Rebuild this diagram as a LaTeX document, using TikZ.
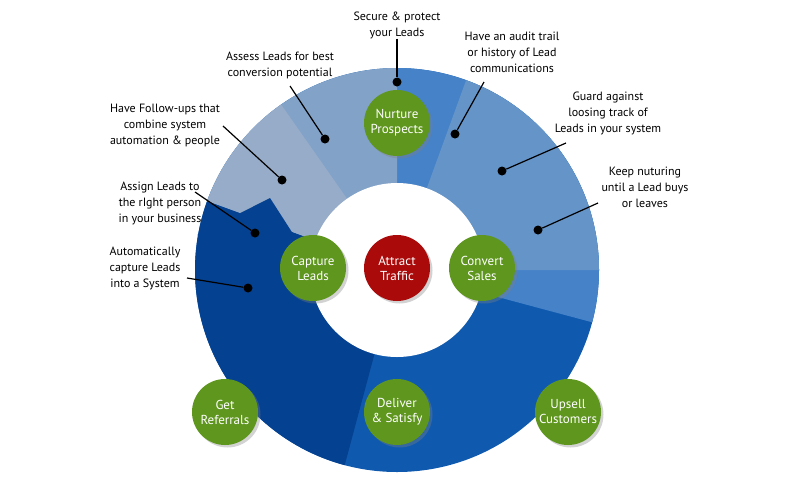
\documentclass[tikz,border=0pt]{standalone}
\usepackage{fontspec}
\setmainfont{PT Sans}
\usetikzlibrary{shadows}
\definecolor{ringgrey}{RGB}{150,172,200}
\definecolor{ringlight}{RGB}{100,148,200}
\definecolor{ringmid}{RGB}{70,130,200}
\definecolor{ringdark}{RGB}{15,90,175}
\definecolor{ringnavy}{RGB}{5,65,145}
\definecolor{stagegreen}{RGB}{95,150,30}
\definecolor{stagered}{RGB}{170,10,10}
\tikzset{
  stage/.style={circle,minimum size=66pt,inner sep=0pt,fill=stagegreen,text=white,
    align=center,font=\fontsize{13}{15}\selectfont,drop shadow={opacity=.35}},
  hub/.style={stage,fill=stagered},
  note/.style={align=center,font=\fontsize{12}{16}\selectfont,inner sep=0pt},
  dot/.style={circle,fill=black,minimum size=9pt,inner sep=0pt},
  lead/.style={line width=1.2pt}
}
\begin{document}
\begin{tikzpicture}[x=1pt,y=-1pt]
\useasboundingbox (0,0) rectangle (800,480);
% ring (y is flipped, so angles run clockwise)
\fill[ringdark] (397,270) circle (202);
\fill[ringnavy] (397,270) -- ++(-160:202) arc (-160:-255:202) -- cycle;
\fill[ringmid] (397,270) -- ++(15:202) arc (15:-90:202) -- cycle;
\fill[ringlight] (397,270) -- ++(0:202) arc (0:-70:202) -- cycle;
\fill[ringgrey!60!ringlight] (397,270) -- ++(-90:202) arc (-90:-160:202) -- cycle;
\fill[ringgrey] (397,270) -- ++(-125:202) arc (-125:-160:202) -- cycle;
\fill[ringnavy] (397,270) -- (197,235) -- (270,198) -- (297,240) -- cycle;
\fill[white] (397,270) circle (87);
% stages
\node[stage] (nurture) at (397,123) {Nurture\\Prospects};
\node[stage] (capture) at (313,268) {Capture\\Leads};
\node[hub] (attract) at (397,268) {Attract\\Traffic};
\node[stage] (convert) at (482,268) {Convert\\Sales};
\node[stage] (refer) at (225,412) {Get\\Referrals};
\node[stage] (deliver) at (397,412) {Deliver\\\& Satisfy};
\node[stage] (upsell) at (568,412) {Upsell\\Customers};
% notes
\node[note] (secure) at (397,25) {Secure \& protect\\your Leads};
\node[note] (audit) at (512,52) {Have an audit trail\\or history of Lead\\communications};
\node[note] (guard) at (608,113) {Guard against\\loosing track of\\Leads in your system};
\node[note] (keep) at (645,187) {Keep nuturing\\until a Lead buys\\or leaves};
\node[note] (assess) at (280,65) {Assess Leads for best\\conversion potential};
\node[note] (follow) at (165,125) {Have Follow-ups that\\combine system\\automation \& people};
\node[note] (assign) at (160,203) {Assign Leads to\\the rIght person\\in your business};
\node[note] (auto) at (145,268) {Automatically\\capture Leads\\into a System};
% dots
\node[dot] (d1) at (397,82) {};
\node[dot] (d2) at (455,134) {};
\node[dot] (d3) at (502,171) {};
\node[dot] (d4) at (538,230) {};
\node[dot] (d5) at (325,139) {};
\node[dot] (d6) at (282,180) {};
\node[dot] (d7) at (255,233) {};
\node[dot] (d8) at (248,288) {};
\coordinate (c2) at (484,82);
\coordinate (c3) at (566,143);
\coordinate (c4) at (598,203);
\coordinate (c5) at (290,86);
\coordinate (c6) at (223,126);
\coordinate (c7) at (195,192);
\coordinate (c8) at (187,278);
\draw[lead] (secure) -- (d1);
\draw[lead] (c2) -- (d2);
\draw[lead] (c3) -- (d3);
\draw[lead] (c4) -- (d4);
\draw[lead] (c5) -- (d5);
\draw[lead] (c6) -- (d6);
\draw[lead] (c7) -- (d7);
\draw[lead] (c8) -- (d8);
\end{tikzpicture}
\end{document}
